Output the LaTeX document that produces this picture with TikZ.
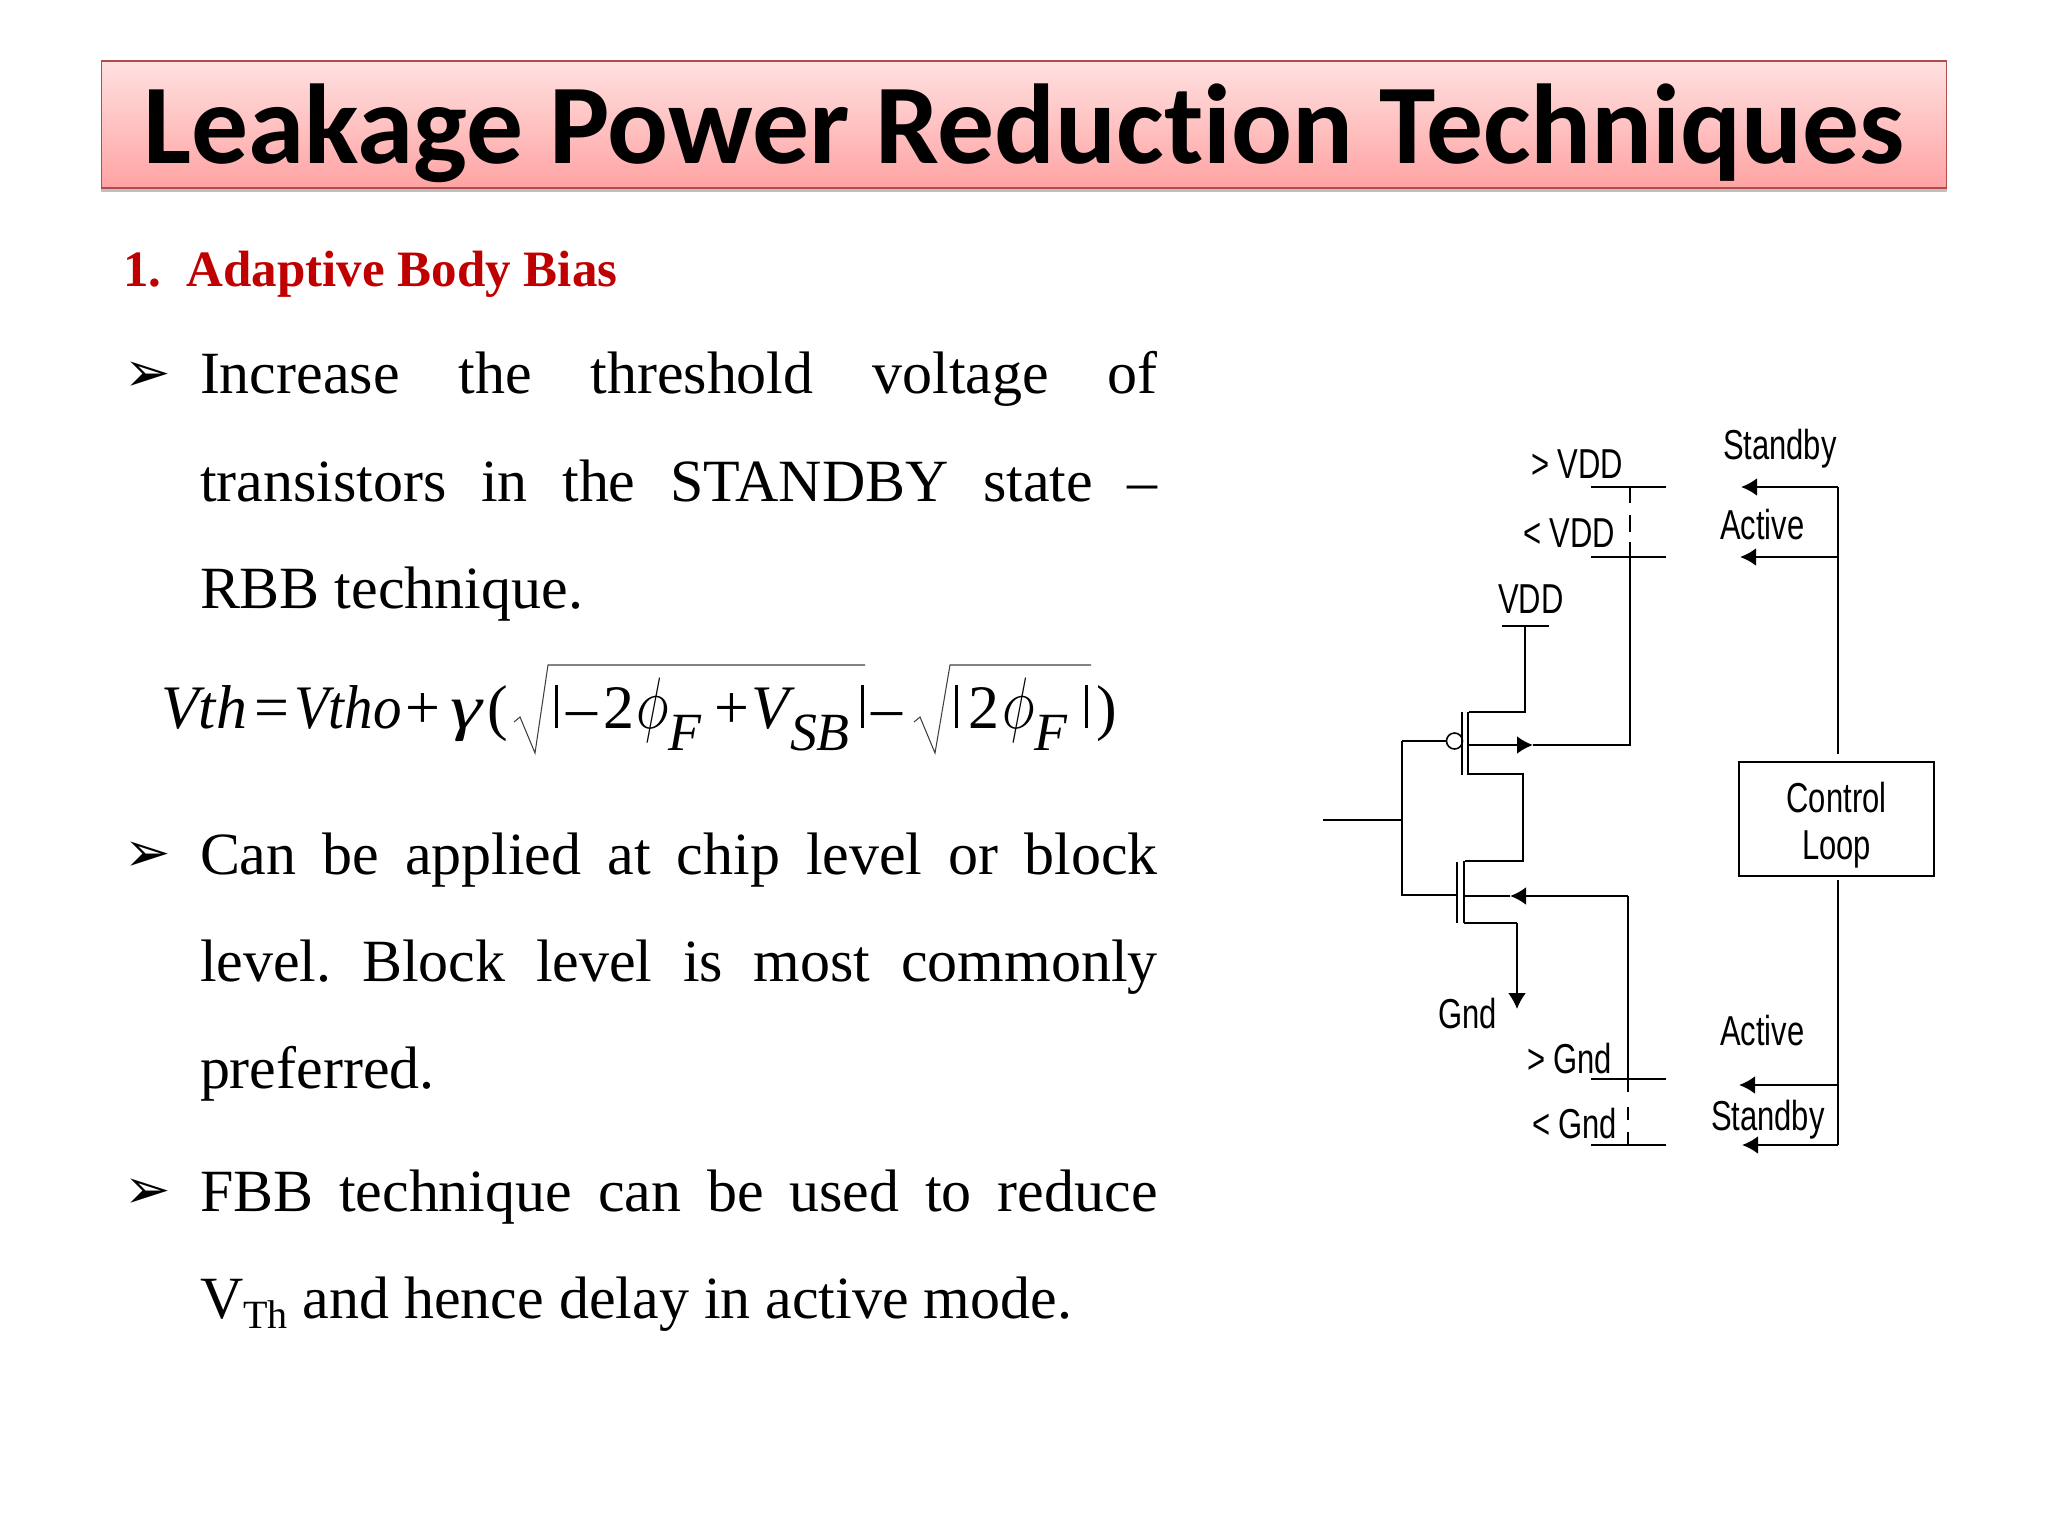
\documentclass[tikz,border=0pt]{standalone}
\usepackage{graphicx}
\usepackage{fontspec}
\setmainfont{Liberation Serif}
\newfontfamily\titlefont[Ligatures=NoCommon]{Carlito}
\newfontfamily\labelfont{Liberation Sans}
\newfontfamily\dingfont{DejaVu Sans}
\usetikzlibrary{arrows.meta,shadows}
\frenchspacing
\newcommand{\fitline}[1]{\makebox[9.57cm][s]{#1}}
\newcommand{\slim}[1]{\scalebox{.74}[1]{#1}}
\tikzset{
  txt/.style={inner sep=0pt,outer sep=0pt,anchor=base west},
  bodytxt/.style={txt,font=\fontsize{17.05}{20}\selectfont},
  eqtxt/.style={txt,font=\fontsize{17.6}{20}\selectfont\itshape},
  eqnum/.style={txt,font=\fontsize{17.6}{20}\selectfont},
  eqsub/.style={txt,font=\fontsize{15.3}{18}\selectfont\itshape},
  eqrule/.style={draw=black!75,line width=.3pt},
  eqbar/.style={draw=black,line width=.85pt},
  bullet/.style={txt,font=\fontsize{15.8}{18}\selectfont\dingfont},
  lbl/.style={txt,font=\fontsize{11.9}{14}\selectfont\labelfont},
  wire/.style={draw=black,line width=.55pt},
  heavy/.style={draw=black,line width=.8pt},
  tip/.style={-{Latex[length=.16cm,width=.18cm]}}
}
\begin{document}
\begin{tikzpicture}[x=.01cm,y=-.01cm]
  \useasboundingbox (0,0) rectangle (2048,1536);

  % title bar
  \node[minimum width=18.44cm,minimum height=1.27cm,inner sep=0pt,draw=red!55!black!70,line width=.5pt,
    top color=red!12,bottom color=red!36,drop shadow={shadow xshift=0pt,shadow yshift=-1.1pt,opacity=.5},
    text height=.77cm,text depth=0cm,
    font=\fontsize{32.3}{36}\selectfont\titlefont\bfseries] (titlebar) at (1024,124.5)
    {Leakage Power Reduction Techniques};

  % text column
  \node[txt,font=\fontsize{14.5}{17}\selectfont\bfseries,text={rgb,255:red,192;green,0;blue,0}] (heading) at (123,286) {1.\ \ Adaptive Body Bias};

  \node[bullet] (bulleta) at (124,391) {➢};
  \node[bodytxt] (linea) at (200,393.5) {\fitline{Increase the threshold voltage of}};
  \node[bodytxt] (lineb) at (200,501) {\fitline{transistors in the STANDBY state –}};
  \node[bodytxt] (linec) at (200,608) {RBB technique.};

  \node[bullet] (bulletb) at (124,871) {➢};
  \node[bodytxt] (lined) at (200,874) {\fitline{Can be applied at chip level or block}};
  \node[bodytxt] (linee) at (200,981) {\fitline{level. Block level is most commonly}};
  \node[bodytxt] (linef) at (200,1088) {preferred.};

  \node[bullet] (bulletc) at (124,1208) {➢};
  \node[bodytxt] (lineg) at (200,1211) {\fitline{FBB technique can be used to reduce}};
  \node[bodytxt] (lineh) at (200,1318) {V\raisebox{-.1cm}{\fontsize{11.4}{13}\selectfont Th} and hence delay in active mode.};

  % equation
  \node[eqtxt] (eqa) at (161,728) {Vth};
  \node[eqnum] (eqb) at (254,728) {=};
  \node[eqtxt] (eqc) at (294,728) {\scalebox{.92}[1]{Vtho}};
  \node[eqnum] (eqd) at (405,728) {+};
  \node[eqtxt] (eqe) at (450,728) {\scalebox{1.3}[1]{γ}};
  \node[eqnum] (eqf) at (487,728) {(};
  \node[eqnum] (eqg) at (566,728) {–};
  \node[eqnum] (eqh) at (603,728) {2};
  \node[eqtxt] (eqi) at (636,728) {\scalebox{.92}[1.2]{$\phi$}};
  \node[eqsub] (eqj) at (668,750) {F};
  \node[eqnum] (eqk) at (714,728) {+};
  \node[eqtxt] (eql) at (751,728) {V};
  \node[eqsub] (eqm) at (790,750) {SB};
  \node[eqnum] (eqn) at (871,728) {–};
  \node[eqnum] (eqo) at (968,728) {2};
  \node[eqtxt] (eqp) at (1002,728) {\scalebox{.92}[1.2]{$\phi$}};
  \node[eqsub] (eqq) at (1034,750) {F};
  \node[eqnum] (eqr) at (1096,728) {)};
  \draw[eqrule] (514,722) -- (520,717) -- (535,753) -- (548,665) -- (865,665);
  \draw[eqrule] (914,722) -- (920,717) -- (935,753) -- (950,665) -- (1091,665);
  \foreach \barx in {556,862,956,1086}
    \draw[eqbar] (\barx,685) -- (\barx,728);

  % control box
  \node[draw,line width=.55pt,minimum width=1.95cm,minimum height=1.14cm,inner sep=0pt,align=center,
    font=\fontsize{11.9}{13.4}\selectfont\labelfont] (ctrl) at (1836.5,819)
    {\rule{0pt}{.42cm}\slim{Control}\\[0cm]\slim{Loop}};

  % labels
  \node[lbl] (hivdd) at (1531,478) {\slim{> VDD}};
  \node[lbl] (lovdd) at (1523,547) {\slim{< VDD}};
  \node[lbl] (vdd) at (1498,613) {\slim{VDD}};
  \node[lbl] (stbya) at (1723,459) {\slim{Standby}};
  \node[lbl] (acta) at (1720,539) {\slim{Active}};
  \node[lbl] (gnd) at (1438,1028) {\slim{Gnd}};
  \node[lbl] (higng) at (1527,1073) {\slim{> Gnd}};
  \node[lbl] (lognd) at (1532,1138) {\slim{< Gnd}};
  \node[lbl] (actb) at (1720,1045) {\slim{Active}};
  \node[lbl] (stbyb) at (1711,1130) {\slim{Standby}};

  % supply rails
  \draw[wire] (1591,487) -- (1666,487);
  \draw[wire] (1591,557) -- (1666,557);
  \draw[wire] (1591,1079) -- (1666,1079);
  \draw[wire] (1591,1145) -- (1666,1145);
  \draw[wire] (1502,626) -- (1549,626);

  % selector lines
  \coordinate (ctrltop) at (1838,754);
  \coordinate (ctrlbot) at (1838,880);
  \coordinate (railtop) at (1838,487);
  \coordinate (railbot) at (1838,1145);
  \draw[wire] (ctrltop) -- (railtop);
  \draw[wire] (ctrlbot) -- (railbot);
  \draw[heavy,tip] (railtop) -- (1741,487);
  \draw[heavy,tip] (1838,557) -- (1740,557);
  \draw[heavy,tip] (1838,1085) -- (1739,1085);
  \draw[heavy,tip] (railbot) -- (1742,1145);

  % pmos
  \draw[wire] (1525,626) -- (1525,712) -- (1469,712);
  \draw[wire] (1468,712) -- (1468,774) -- (1523,774) -- (1523,861) -- (1465,861);
  \draw[wire] (1462,712) -- (1462,775);
  \node[draw,circle,line width=.45pt,minimum size=.16cm,inner sep=0pt] (bubble) at (1454.5,741) {};
  \draw[wire] (1402,741) -- (bubble.west);
  \draw[heavy,tip] (1468,745) -- (1533,745);
  \draw[wire] (1533,745) -- (1630,745) -- (1630,557);
  \draw[wire] (1630,557) -- (1630,542);
  \draw[wire] (1630,532) -- (1630,515);
  \draw[wire] (1630,503) -- (1630,487);

  % nmos
  \draw[wire] (1402,741) -- (1402,895) -- (1457,895);
  \draw[wire] (1323,820) -- (1402,820);
  \draw[wire] (1457,862) -- (1457,923);
  \draw[wire] (1464,861) -- (1464,923);
  \draw[wire] (1464,896) -- (1510,896);
  \draw[heavy,tip] (1628,896) -- (1510,896);
  \draw[wire] (1628,896) -- (1628,1092);
  \draw[wire] (1628,1107) -- (1628,1120);
  \draw[wire] (1628,1132) -- (1628,1145);
  \draw[wire] (1464,923) -- (1517,923);
  \draw[wire,tip] (1517,923) -- (1517,1009);

\end{tikzpicture}
\end{document}
